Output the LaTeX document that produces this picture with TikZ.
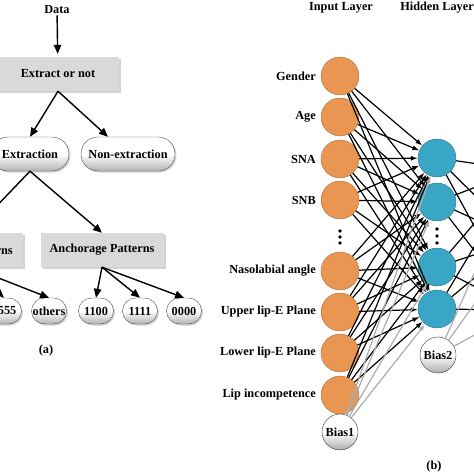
\documentclass[tikz,border=0pt]{standalone}
\usepackage{fontspec}
\setmainfont{Liberation Serif}
\usetikzlibrary{shapes.misc,shadows,arrows.meta}

\definecolor{inorange}{RGB}{232,150,82}
\definecolor{hidblue}{RGB}{58,166,198}
\definecolor{boxgray}{RGB}{217,217,217}

\begin{document}
\begin{tikzpicture}[x=1pt, y=-1pt,
        every node/.append style={font=\fontsize{12.3}{14}\selectfont\bfseries, inner sep=1pt},
        graybox/.style={fill=boxgray, minimum height=34pt,
            drop shadow={shadow xshift=2pt, shadow yshift=-2pt, opacity=0.35}},
        pill/.style={rounded rectangle, draw=gray!60!black, top color=white, bottom color=gray!60,
            middle color=white, minimum height=34pt, inner xsep=4pt,
            drop shadow={shadow xshift=1.5pt, shadow yshift=-1.5pt, opacity=0.35}},
        smallpill/.style={pill, minimum height=26pt, minimum width=43pt},
        tree/.style={line width=1.4pt, -{Triangle[length=9pt,width=7.5pt]}},
        innode/.style={circle, fill=inorange, draw=inorange!75!black, minimum size=38pt, inner sep=0pt},
        hidnode/.style={circle, fill=hidblue, draw=hidblue!70!black, minimum size=38pt, inner sep=0pt},
        biasnode/.style={circle, draw=black!80, top color=white, bottom color=gray!65, middle color=white,
            minimum size=36pt, inner sep=0pt},
        net/.style={line width=1.2pt, -{Latex[length=7pt,width=5pt]}},
        biasnet/.style={net, draw=gray!65, -{Latex[length=7pt,width=5pt,gray!65]}},
        feat/.style={anchor=east}
    ]
        \useasboundingbox (0,0) rectangle (474,474);

        % (a) decision tree
        \node (data) at (57,10) {Data};
        \node [graybox, minimum width=122pt] (extract) at (58,74) {Extract or not};
        \node [pill, minimum width=86pt] (extr) at (30,154) {Extraction};
        \node [pill, minimum width=102pt] (nonex) at (128,154) {Non-extraction};
        \node [graybox, minimum width=124pt] (expat) at (-39,250) {Extraction Patterns};
        \node [graybox, minimum width=123pt] (anchor) at (102,250) {Anchorage Patterns};
        \node [smallpill] (p5555) at (4,311) {5555};
        \node [smallpill] (others) at (49,311) {others};
        \node [smallpill] (p1100) at (96,311) {1100};
        \node [smallpill] (p1111) at (140,311) {1111};
        \node [smallpill] (p0000) at (184,311) {0000};
        \node (capa) at (46,351) {(a)};

        \draw [tree, shorten >=3pt] (data) -- (extract);
        \draw [tree] (extract.south) -- (extr.north);
        \draw [tree] (extract.south) -- ([xshift=-20pt]nonex.north);
        \draw [tree] (extr.south) -- ([xshift=10pt]expat.north);
        \draw [tree] (extr.south) -- (anchor.north);
        \draw [tree] ([xshift=10pt]expat.south) -- (p5555.north);
        \draw [tree] ([xshift=10pt]expat.south) -- (others.north);
        \draw [tree] (anchor.south) -- (p1100.north);
        \draw [tree] (anchor.south) -- (p1111.north);
        \draw [tree] (anchor.south) -- (p0000.north);

        % (b) neural network
        \node (inlayer) at (341,8) {Input Layer};
        \node (hidlayer) at (437,8) {Hidden Layer};

        \node [innode] (I1) at (340,76) {};
        \node [innode] (I2) at (340,117) {};
        \node [innode] (I3) at (340,159) {};
        \node [innode] (I4) at (340,200) {};
        \node [innode] (I5) at (340,271) {};
        \node [innode] (I6) at (340,312) {};
        \node [innode] (I7) at (340,353) {};
        \node [innode] (I8) at (340,395) {};
        \node [biasnode] (B1) at (340,432) {Bias1};

        \node [feat] (L1) at (317,76) {Gender};
        \node [feat] (L2) at (317,117) {Age};
        \node [feat] (L3) at (317,159) {SNA};
        \node [feat] (L4) at (317,200) {SNB};
        \node [feat] (L5) at (317,271) {Nasolabial angle};
        \node [feat] (L6) at (317,312) {Upper lip-E Plane};
        \node [feat] (L7) at (317,353) {Lower lip-E Plane};
        \node [feat] (L8) at (317,395) {Lip incompetence};

        \node [hidnode] (H1) at (437,158) {};
        \node [hidnode] (H2) at (437,202) {};
        \node [hidnode] (H3) at (437,267) {};
        \node [hidnode] (H4) at (437,309) {};
        \node [biasnode] (B2) at (438,355) {Bias2};

        \coordinate (O1) at (520,170);
        \coordinate (O2) at (520,240);
        \coordinate (O3) at (520,310);

        \node (capb) at (434,467) {(b)};

        \fill (340,231) circle (1.9pt) (340,237) circle (1.9pt) (340,243) circle (1.9pt);
        \fill (437,229) circle (1.9pt) (437,236) circle (1.9pt) (437,243) circle (1.9pt);

        \draw [net] (I1) edge (H1) edge (H2) edge (H3) edge (H4);
        \draw [net] (I2) edge (H1) edge (H2) edge (H3) edge (H4);
        \draw [net] (I3) edge (H1) edge (H2) edge (H3) edge (H4);
        \draw [net] (I4) edge (H1) edge (H2) edge (H3) edge (H4);
        \draw [net] (I5) edge (H1) edge (H2) edge (H3) edge (H4);
        \draw [net] (I6) edge (H1) edge (H2) edge (H3) edge (H4);
        \draw [net] (I7) edge (H1) edge (H2) edge (H3) edge (H4);
        \draw [net] (I8) edge (H1) edge (H2) edge (H3) edge (H4);
        \draw [biasnet] (B1) edge (H1) edge (H2) edge (H3) edge (H4);

        \draw [line width=1.2pt] (H1) edge (O1) edge (O2) edge (O3);
        \draw [line width=1.2pt] (H2) edge (O1) edge (O2) edge (O3);
        \draw [line width=1.2pt] (H3) edge (O1) edge (O2) edge (O3);
        \draw [line width=1.2pt] (H4) edge (O1) edge (O2) edge (O3);
        \draw [line width=1.2pt, gray!65] (B2) edge (O1) edge (O2) edge (O3);
    \end{tikzpicture}
\end{document}
